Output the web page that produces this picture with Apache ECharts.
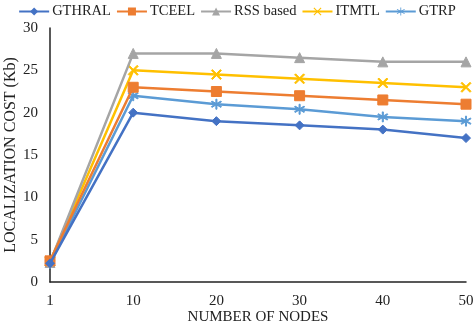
<!DOCTYPE html>
<html><head><meta charset="utf-8">
<script src="https://cdn.jsdelivr.net/npm/echarts@6/dist/echarts.min.js"></script>
<style>html,body{margin:0;padding:0;background:#fff}#c{width:474px;height:324px}</style>
</head><body><div id="c"></div>
<script>
const categories = ['1','10','20','30','40','50'];
const seriesNames = ['GTHRAL','TCEEL','RSS based','ITMTL','GTRP'];
const gthral = [2.2, 20, 19, 18.5, 18, 17];
const tceel  = [2.5, 23, 22.5, 22, 21.5, 21];
const rss    = [2.3, 27, 27, 26.5, 26, 26];
const itmtl  = [2.4, 25, 24.5, 24, 23.5, 23];
const gtrp   = [2.2, 22, 21, 20.4, 19.5, 19];
const yTicks = [0, 5, 10, 15, 20, 25, 30];

const colors = ['#4472C4','#ED7D31','#A5A5A5','#FFC000','#5B9BD5'];
const symbols = ['diamond','rect','triangle',
  'path://M1,0L5,4L9,0L10,1L6,5L10,9L9,10L5,6L1,10L0,9L4,5L0,1Z',
  'path://M4.5,0H5.5V4.1L9.2,1.8L9.7,2.7L6,5L9.7,7.3L9.2,8.2L5.5,5.9V10H4.5V5.9L0.8,8.2L0.3,7.3L4,5L0.3,2.7L0.8,1.8L4.5,4.1Z'];
const sizes = [9, 10, 10, 10, 10];
const dataSets = [gthral, tceel, rss, itmtl, gtrp];
const font = 'Liberation Serif';

const chart = echarts.init(document.getElementById('c'));
chart.setOption({
  animation: false,
  textStyle: {fontFamily: font},
  legend: {
    top: -1, left: 'center', width: 474, itemWidth: 30, itemHeight: 10, itemGap: 5,
    textStyle: {fontFamily: font, fontSize: 14.5, color: '#222', padding: [0,0,0,-2]},
    data: seriesNames
  },
  grid: {left: 50, right: 8, top: 28, bottom: 42, containLabel: false, outerBoundsMode: 'none'},
  xAxis: {
    type: 'category', data: categories, boundaryGap: false,
    axisLine: {lineStyle: {color: '#222', width: 1.5}},
    axisTick: {show: false},
    axisLabel: {fontFamily: font, fontSize: 15, color: '#222', margin: 12},
    name: 'NUMBER OF NODES', nameLocation: 'middle', nameGap: 28, nameMoveOverlap: false,
    nameTextStyle: {fontFamily: font, fontSize: 15, color: '#222'}
  },
  yAxis: {
    type: 'value', min: yTicks[0], max: yTicks[yTicks.length-1], interval: 5,
    axisLine: {show: true, lineStyle: {color: '#222', width: 1.5}},
    axisTick: {show: false},
    splitLine: {show: false},
    axisLabel: {fontFamily: font, fontSize: 15, color: '#222', margin: 12},
    name: 'LOCALIZATION COST (Kb)', nameLocation: 'middle', nameGap: 31, nameMoveOverlap: false,
    nameTextStyle: {fontFamily: font, fontSize: 16, color: '#222'}
  },
  series: seriesNames.map((n, i) => ({
    name: n, type: 'line', data: dataSets[i],
    symbol: symbols[i], symbolSize: sizes[i], showAllSymbol: true,
    lineStyle: {color: colors[i], width: 2.5},
    itemStyle: {color: colors[i], borderColor: colors[i]},
    z: 10 - i
  }))
});
</script></body></html>
